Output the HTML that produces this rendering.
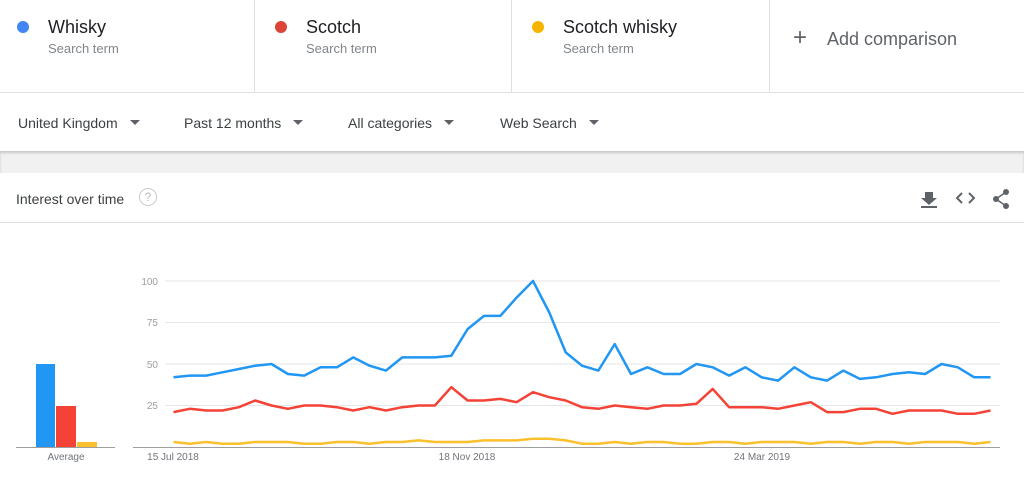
<!DOCTYPE html>
<html><head><meta charset="utf-8"><style>
body{margin:0;width:1024px;height:484px;background:#fff;font-family:"Liberation Sans",sans-serif;position:relative;overflow:hidden}
.a{position:absolute}
.t{font-size:18px;color:#202124}
.s{font-size:13px;color:#80868b}
.dot{width:12px;height:12px;border-radius:50%}
.f{font-size:14px;color:#3c4043;top:115px}
.car{display:inline-block;width:0;height:0;border-left:5px solid transparent;border-right:5px solid transparent;border-top:5px solid #5f6368;margin-left:12px;vertical-align:3px}
</style></head><body>
<div class="a" style="left:0;top:0;width:1024px;height:92px;border-bottom:1px solid #e0e0e0"></div>
<div class="a" style="left:254px;top:0;width:1px;height:92px;background:#e0e0e0"></div>
<div class="a" style="left:511px;top:0;width:1px;height:92px;background:#e0e0e0"></div>
<div class="a" style="left:769px;top:0;width:1px;height:92px;background:#e0e0e0"></div>
<div class="a dot" style="left:17px;top:21px;background:#4285f4"></div>
<div class="a t" style="left:48px;top:17px">Whisky</div><div class="a s" style="left:48px;top:41px">Search term</div>
<div class="a dot" style="left:275px;top:21px;background:#db4437"></div>
<div class="a t" style="left:306px;top:17px">Scotch</div><div class="a s" style="left:306px;top:41px">Search term</div>
<div class="a dot" style="left:532px;top:21px;background:#f4b400"></div>
<div class="a t" style="left:563px;top:17px">Scotch whisky</div><div class="a s" style="left:563px;top:41px">Search term</div>
<div class="a" style="left:793px;top:26px;font-size:24px;color:#5f6368;line-height:24px">+</div>
<div class="a" style="left:827px;top:29px;font-size:18px;color:#5f6368">Add comparison</div>
<div class="a f" style="left:18px">United Kingdom<span class="car"></span></div>
<div class="a f" style="left:184px">Past 12 months<span class="car"></span></div>
<div class="a f" style="left:348px">All categories<span class="car"></span></div>
<div class="a f" style="left:500px">Web Search<span class="car"></span></div>
<div class="a" style="left:0;top:151px;width:1024px;height:22px;background:#f1f1f1;box-shadow:inset 0 2px 2px #c8c8c8"></div>
<div class="a" style="left:16px;top:191px;font-size:14px;color:#3c4043">Interest over time</div>
<div class="a" style="left:139px;top:188px;width:16px;height:16px;border:1.5px solid #ccc;border-radius:50%;color:#bbb;font-size:12px;text-align:center;line-height:16px">?</div>
<div class="a" style="left:0;top:222px;width:1024px;height:1px;background:#e0e0e0"></div>
<svg class="a" style="left:0;top:0" width="1024" height="484">
<g fill="#5f6368"><path d="M925 192h8v6h4l-8 7-8-7h4z"/><rect x="921" y="206" width="16" height="2"/></g>
<path d="M962 193l-5 5 5 5M969 193l5 5-5 5" stroke="#5f6368" stroke-width="2" fill="none"/>
<g fill="#5f6368"><circle cx="1006" cy="192" r="3"/><circle cx="996" cy="199" r="3"/><circle cx="1006" cy="206" r="3"/></g>
<path d="M1006 192L996 199L1006 206" stroke="#5f6368" stroke-width="1.5" fill="none"/>
<g stroke="#e6e6e6" stroke-width="1"><line x1="165" x2="1000" y1="281" y2="281"/><line x1="165" x2="1000" y1="322.5" y2="322.5"/><line x1="165" x2="1000" y1="364" y2="364"/><line x1="165" x2="1000" y1="405.5" y2="405.5"/></g>
<line x1="133" x2="1000" y1="447.5" y2="447.5" stroke="#9e9e9e"/>
<line x1="16" x2="115" y1="447.5" y2="447.5" stroke="#9e9e9e"/>
<g font-size="10" fill="#9e9e9e" text-anchor="end"><text x="158" y="285">100</text><text x="158" y="326">75</text><text x="158" y="368">50</text><text x="158" y="409">25</text></g>
<g font-size="10" fill="#70757a" text-anchor="middle"><text x="173" y="460">15 Jul 2018</text><text x="467" y="460">18 Nov 2018</text><text x="762" y="460">24 Mar 2019</text><text x="66" y="460">Average</text></g>
<rect x="36" y="364" width="19" height="83" fill="#2196f3"/>
<rect x="56" y="406" width="20" height="41" fill="#f44336"/>
<rect x="77" y="442" width="20" height="5" fill="#fbc02d"/>
<polyline id="y" fill="none" stroke="#fbc02d" stroke-width="2.5" stroke-linejoin="round"/>
<polyline id="r" fill="none" stroke="#f44336" stroke-width="2.5" stroke-linejoin="round"/>
<polyline id="b" fill="none" stroke="#2196f3" stroke-width="2.5" stroke-linejoin="round"/>
</svg>
<script>
var B=[42,43,43,45,47,49,50,44,43,48,48,54,49,46,54,54,54,55,71,79,79,90,100,81,57,49,46,62,44,48,44,44,50,48,43,48,42,40,48,42,40,46,41,42,44,45,44,50,48,42,42];
var R=[21,23,22,22,24,28,25,23,25,25,24,22,24,22,24,25,25,36,28,28,29,27,33,30,28,24,23,25,24,23,25,25,26,35,24,24,24,23,25,27,21,21,23,23,20,22,22,22,20,20,22];
var Y=[3,2,3,2,2,3,3,3,2,2,3,3,2,3,3,4,3,3,3,4,4,4,5,5,4,2,2,3,2,3,3,2,2,3,3,2,3,3,3,2,3,3,2,3,3,2,3,3,3,2,3];
function p(a){return a.map(function(v,i){return (173.5+i*16.34).toFixed(1)+','+(447-v*1.66).toFixed(1)}).join(' ')}
document.getElementById('b').setAttribute('points',p(B));
document.getElementById('r').setAttribute('points',p(R));
document.getElementById('y').setAttribute('points',p(Y));
</script>
</body></html>
